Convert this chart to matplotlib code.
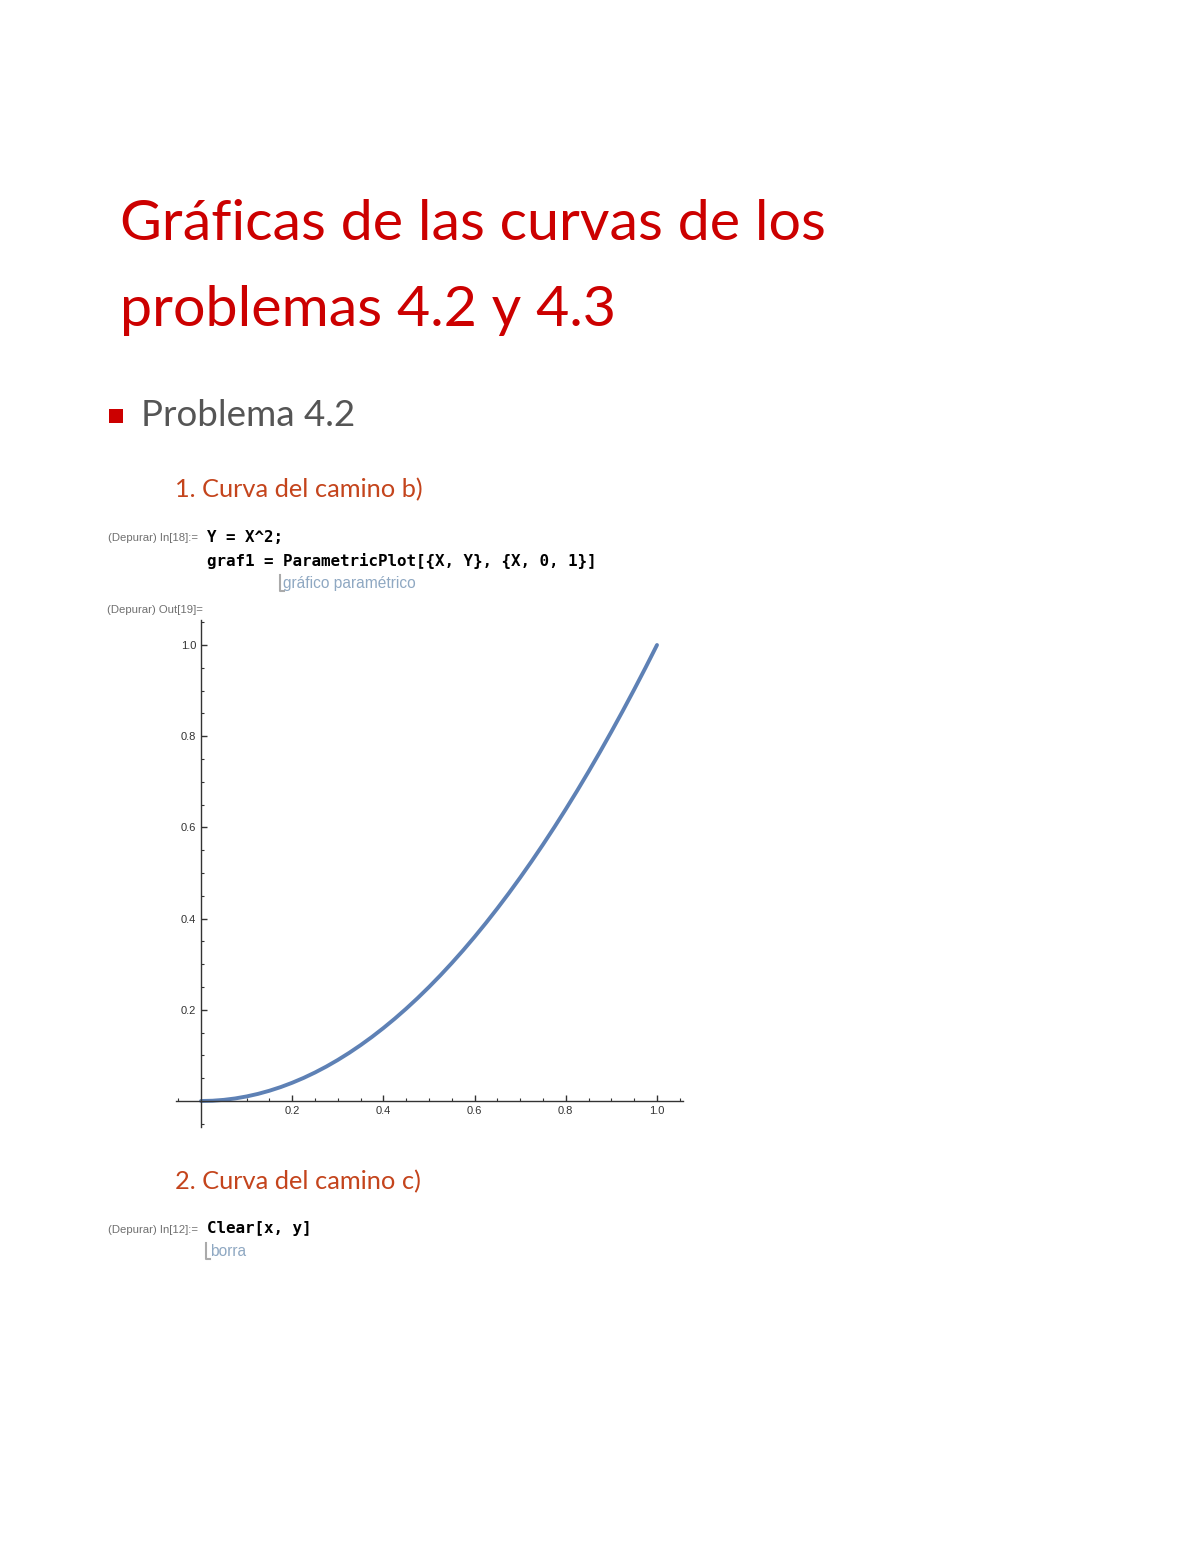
import matplotlib
matplotlib.use("Agg")
import matplotlib.pyplot as plt
from matplotlib.ticker import FixedLocator, FixedFormatter

# ---- data ----
x_vals = [0.0, 0.025, 0.05, 0.075, 0.10, 0.125, 0.15, 0.175, 0.20, 0.225, 0.25,
          0.275, 0.30, 0.325, 0.35, 0.375, 0.40, 0.425, 0.45, 0.475, 0.50,
          0.525, 0.55, 0.575, 0.60, 0.625, 0.65, 0.675, 0.70, 0.725, 0.75,
          0.775, 0.80, 0.825, 0.85, 0.875, 0.90, 0.925, 0.95, 0.975, 1.0]
y_vals = [0.0, 0.0006, 0.0025, 0.0056, 0.01, 0.0156, 0.0225, 0.0306, 0.04, 0.0506, 0.0625,
          0.0756, 0.09, 0.1056, 0.1225, 0.1406, 0.16, 0.1806, 0.2025, 0.2256, 0.25,
          0.2756, 0.3025, 0.3306, 0.36, 0.3906, 0.4225, 0.4556, 0.49, 0.5256, 0.5625,
          0.6006, 0.64, 0.6806, 0.7225, 0.7656, 0.81, 0.8556, 0.9025, 0.9506, 1.0]
major_ticks = [0.2, 0.4, 0.6, 0.8, 1.0]
major_labels = ["0.2", "0.4", "0.6", "0.8", "1.0"]
minor_ticks = [-0.05, 0.05, 0.10, 0.15, 0.25, 0.30, 0.35, 0.45, 0.50, 0.55,
               0.65, 0.70, 0.75, 0.85, 0.90, 0.95, 1.05]

W, H = 1200, 1553
fig = plt.figure(figsize=(W / 100, H / 100), dpi=100)
fig.patch.set_facecolor("white")


def P(x, y):
    return x / W, 1 - y / H


RED = "#CC0000"
ORANGE = "#C4441C"
GREY = "#555555"
SMALL = "#707070"
HINT = "#8FA8C2"

# title
fig.text(*P(120, 225), "Gráficas de las curvas de los", fontsize=41.3, family="Lato",
         color=RED, va="center", ha="left")
fig.text(*P(120, 310), "problemas 4.2 y 4.3", fontsize=41.3, family="Lato",
         color=RED, va="center", ha="left")

# section bullet
fig.patches.append(plt.Rectangle(P(109, 423), 14 / W, 14 / H, transform=fig.transFigure,
                                 facecolor=RED, edgecolor="none"))
fig.text(*P(141, 416), "Problema 4.2", fontsize=26.5, family="Lato", color=GREY,
         va="center", ha="left")

# subsection 1
fig.text(*P(175, 490), "1. Curva del camino b)", fontsize=18.3, family="Lato", color=ORANGE,
         va="center", ha="left")

fig.text(*P(198, 538), "(Depurar) In[18]:=", fontsize=8.2, family="Liberation Sans",
         color=SMALL, va="center", ha="right")
fig.text(*P(207, 537), "Y = X^2;", fontsize=11.4, family="DejaVu Sans Mono",
         weight="bold", color="black", va="center", ha="left")
fig.text(*P(207, 561), "graf1 = ParametricPlot[{X, Y}, {X, 0, 1}]", fontsize=11.4,
         family="DejaVu Sans Mono", weight="bold", color="black", va="center", ha="left")
fig.lines.append(plt.Line2D([280 / W, 280 / W, 284 / W], [1 - 575 / H, 1 - 591 / H, 1 - 591 / H],
                            transform=fig.transFigure, color="#AAAAAA", lw=1.5))
fig.text(*P(283, 583), "gráfico paramétrico", fontsize=11.2, family="Liberation Sans",
         color=HINT, va="center", ha="left")

fig.text(*P(203, 610), "(Depurar) Out[19]=", fontsize=8.2, family="Liberation Sans",
         color=SMALL, va="center", ha="right")

# plot axes
xmin, xmax = -0.055, 1.057
ymin, ymax = -0.057, 1.055
x0 = 201 - 0.055 * 456
x1 = 201 + 1.057 * 456
ytop = 1101 - 1.055 * 456
ybot = 1101 + 0.057 * 456
ax = fig.add_axes([x0 / W, 1 - ybot / H, (x1 - x0) / W, (ybot - ytop) / H])
ax.set_xlim(xmin, xmax)
ax.set_ylim(ymin, ymax)
ax.plot(x_vals, y_vals, color="#5E81B5", lw=2.8, solid_capstyle="round")
for s in ["top", "right"]:
    ax.spines[s].set_visible(False)
ax.spines["left"].set_position(("data", 0))
ax.spines["bottom"].set_position(("data", 0))
for s in ["left", "bottom"]:
    ax.spines[s].set_color("#333333")
    ax.spines[s].set_linewidth(1.0)
for axis in (ax.xaxis, ax.yaxis):
    axis.set_major_locator(FixedLocator(major_ticks))
    axis.set_major_formatter(FixedFormatter(major_labels))
    axis.set_minor_locator(FixedLocator(minor_ticks))
ax.tick_params(which="major", direction="in", length=4.5, width=1.0, color="#333333",
               labelsize=8, labelcolor="#333333", pad=3.5)
ax.tick_params(which="minor", direction="in", length=2.5, width=0.8, color="#333333")
for lab in ax.get_xticklabels() + ax.get_yticklabels():
    lab.set_family("Liberation Sans")
ax.patch.set_visible(False)

# subsection 2
fig.text(*P(175, 1182), "2. Curva del camino c)", fontsize=18.3, family="Lato", color=ORANGE,
         va="center", ha="left")
fig.text(*P(198, 1230), "(Depurar) In[12]:=", fontsize=8.2, family="Liberation Sans",
         color=SMALL, va="center", ha="right")
fig.text(*P(207, 1229), "Clear[x, y]", fontsize=11.4, family="DejaVu Sans Mono",
         weight="bold", color="black", va="center", ha="left")
fig.lines.append(plt.Line2D([206 / W, 206 / W, 210 / W], [1 - 1243 / H, 1 - 1259 / H, 1 - 1259 / H],
                            transform=fig.transFigure, color="#AAAAAA", lw=1.5))
fig.text(*P(210, 1251), "borra", fontsize=11.2, family="Liberation Sans",
         color=HINT, va="center", ha="left")

fig.savefig("out.png", dpi=100)
